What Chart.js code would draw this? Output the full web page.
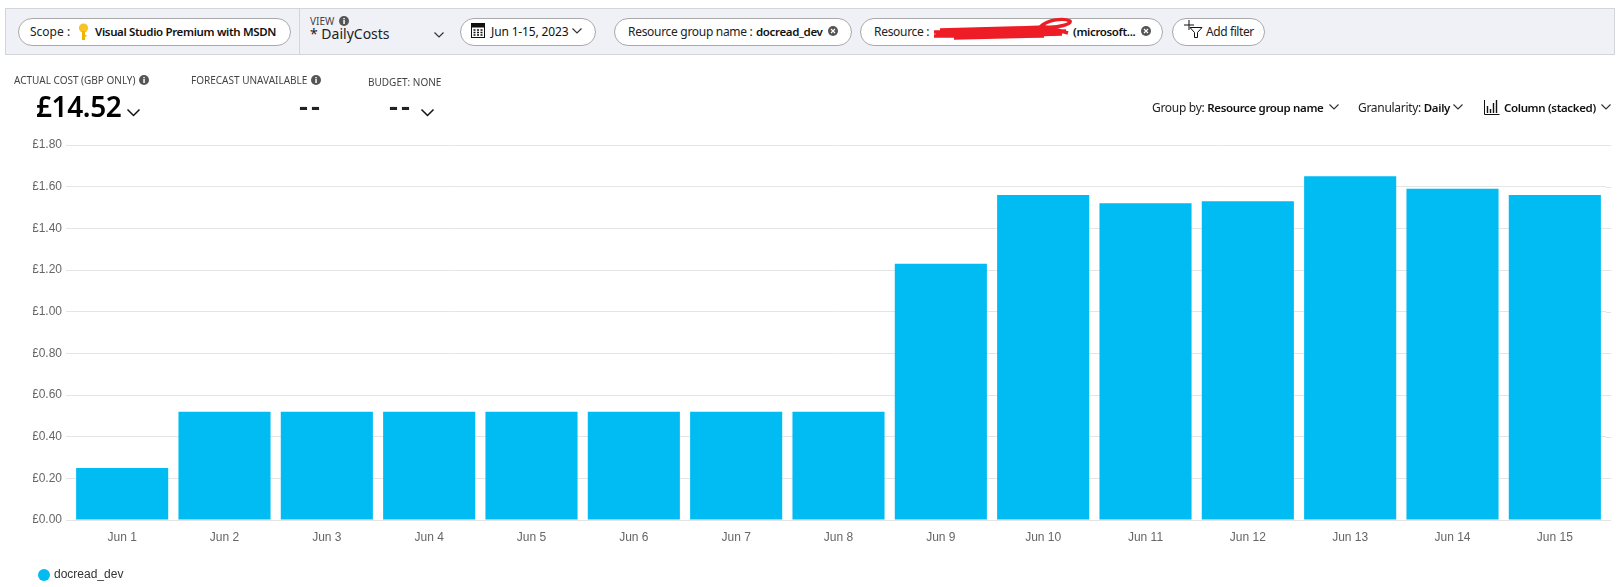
<!DOCTYPE html>
<html>
<head>
<meta charset="utf-8">
<title>DailyCosts</title>
<script src="https://cdn.jsdelivr.net/npm/chart.js@4"></script>
<style>
    html, body { margin: 0; padding: 0; background: #fff; width: 1621px; height: 587px; overflow: hidden; }
    body { font-family: "Noto Sans", sans-serif; font-size: 12px; color: #222; position: relative; }
    #costchart { position: absolute; left: 0; top: 0; }
    .band { position: absolute; left: 5px; top: 8px; width: 1608px; height: 45px; background: #f0f1f7; border: 1px solid #d4d5da; box-sizing: content-box; }
    .divider { position: absolute; left: 299px; top: 9px; width: 1px; height: 45px; background: #d4d5da; }
    .pill { position: absolute; top: 18px; height: 26px; background: #fff; border: 1px solid #a9a9a9; border-radius: 14px; }
    .t { position: absolute; white-space: nowrap; line-height: 16px; }
    .n { letter-spacing: -0.3px; }
    .b { font-weight: 600; color: #111; font-size: 11.5px; letter-spacing: -0.35px; }
    .cap { font-size: 10px; color: #444; }
    .big { font-size: 28px; line-height: 36px; font-weight: 600; color: #000; letter-spacing: -0.4px; }
    .dash { font-size: 28px; line-height: 30px; font-weight: 600; color: #222; letter-spacing: 3px; }
    svg { position: absolute; overflow: visible; }
</style>
</head>
<body>
<canvas id="costchart" width="1621" height="587"></canvas>

<div class="band"></div>
<div class="divider"></div>
<div class="pill" style="left:18px;width:271px"></div>
<div class="pill" style="left:460px;width:134px"></div>
<div class="pill" style="left:614px;width:236px"></div>
<div class="pill" style="left:860px;width:301px"></div>
<div class="pill" style="left:1172px;width:91px"></div>

<div class="t" style="left:30px;top:24px">Scope :</div>
<svg style="left:78px;top:23px" width="11" height="18" viewBox="0 0 11 18"><circle cx="5.5" cy="5" r="4.6" fill="#f7c325"/><rect x="4" y="8" width="3" height="9" fill="#f0b400"/><rect x="6" y="12" width="2.5" height="1.6" fill="#f0b400"/></svg>
<div class="t b" style="left:95px;top:24px">Visual Studio Premium with MSDN</div>

<div class="t cap" style="left:310px;top:13px">VIEW</div>
<svg style="left:339px;top:16px" width="10" height="10"><circle cx="5" cy="5" r="5" fill="#555"/><rect x="4.3" y="4" width="1.5" height="4" fill="#fff"/><rect x="4.3" y="2" width="1.5" height="1.3" fill="#fff"/></svg>
<div class="t" style="left:310px;top:26px;font-size:14px;color:#222">* DailyCosts</div>
<svg style="left:434px;top:32px" width="10" height="6"><path d="M0.5 0.5 L5 5 L9.5 0.5" fill="none" stroke="#333" stroke-width="1.2"/></svg>

<svg style="left:471px;top:23px" width="14" height="15"><rect x="0.5" y="0.5" width="13" height="14" fill="#fff" stroke="#111"/><rect x="0.5" y="0.5" width="13" height="4" fill="#111"/><path d="M2.5 7h2M6 7h2M9.5 7h2M2.5 9.5h2M6 9.5h2M9.5 9.5h2M2.5 12h2M6 12h2M9.5 12h2" stroke="#111" stroke-width="1.4"/></svg>
<div class="t" style="left:491px;top:24px;letter-spacing:-0.15px;color:#111">Jun 1-15, 2023</div>
<svg style="left:572px;top:28px" width="10" height="6"><path d="M0.5 0.5 L5 5 L9.5 0.5" fill="none" stroke="#333" stroke-width="1.2"/></svg>

<div class="t n" style="left:628px;top:24px">Resource group name :</div>
<div class="t b" style="left:756px;top:24px">docread_dev</div>
<svg style="left:828px;top:26px" width="10" height="10"><circle cx="5" cy="5" r="5" fill="#555"/><path d="M3 3l4 4M7 3l-4 4" stroke="#fff" stroke-width="1.2"/></svg>

<div class="t n" style="left:874px;top:24px">Resource :</div>
<div class="t b" style="left:1073px;top:24px">(microsoft...</div>
<svg style="left:934px;top:18px" width="140" height="24" viewBox="0 0 140 24"><path d="M0 14 L60 12 L120 11 L134 15 M2 16 L70 15 L132 13 M0 18 L60 18 L128 16 M6 12 L80 10 L112 9 M20 20 L110 18 M106 9 C114 1 130 0 136 3 C138 6 124 10 112 9" fill="none" stroke="#ee1c25" stroke-width="3.4"/></svg>
<svg style="left:1141px;top:26px" width="10" height="10"><circle cx="5" cy="5" r="5" fill="#555"/><path d="M3 3l4 4M7 3l-4 4" stroke="#fff" stroke-width="1.2"/></svg>

<svg style="left:1184px;top:20px" width="19" height="18"><path d="M5 0v10M0 5h10" stroke="#111" stroke-width="1"/><path d="M6 7.5h12l-4.5 5v5h-3v-5z" fill="#fff" stroke="#111"/></svg>
<div class="t" style="left:1206px;top:24px;letter-spacing:-0.4px">Add filter</div>

<div class="t cap" style="left:14px;top:72px">ACTUAL COST (GBP ONLY)</div>
<svg style="left:139px;top:75px" width="10" height="10"><circle cx="5" cy="5" r="5" fill="#555"/><rect x="4.3" y="4" width="1.5" height="4" fill="#fff"/><rect x="4.3" y="2" width="1.5" height="1.3" fill="#fff"/></svg>
<div class="t big" style="left:36px;top:88px">£14.52</div>
<svg style="left:127px;top:109px" width="13" height="8"><path d="M0.5 0.5 L6.5 6.5 L12.5 0.5" fill="none" stroke="#111" stroke-width="1.5"/></svg>

<div class="t cap" style="left:191px;top:72px">FORECAST UNAVAILABLE</div>
<svg style="left:311px;top:75px" width="10" height="10"><circle cx="5" cy="5" r="5" fill="#555"/><rect x="4.3" y="4" width="1.5" height="4" fill="#fff"/><rect x="4.3" y="2" width="1.5" height="1.3" fill="#fff"/></svg>
<div class="t dash" style="left:299px;top:90px">--</div>

<div class="t cap" style="left:368px;top:74px">BUDGET: NONE</div>
<div class="t dash" style="left:389px;top:90px">--</div>
<svg style="left:421px;top:109px" width="13" height="8"><path d="M0.5 0.5 L6.5 6.5 L12.5 0.5" fill="none" stroke="#111" stroke-width="1.5"/></svg>

<div class="t n" style="left:1152px;top:100px">Group by: <span class="b">Resource group name</span></div>
<svg style="left:1329px;top:104px" width="10" height="6"><path d="M0.5 0.5 L5 5 L9.5 0.5" fill="none" stroke="#333" stroke-width="1.2"/></svg>
<div class="t n" style="left:1358px;top:100px">Granularity: <span class="b">Daily</span></div>
<svg style="left:1453px;top:104px" width="10" height="6"><path d="M0.5 0.5 L5 5 L9.5 0.5" fill="none" stroke="#333" stroke-width="1.2"/></svg>
<svg style="left:1484px;top:100px" width="15" height="15"><path d="M0.5 0v14.5h15" fill="none" stroke="#111"/><path d="M3.5 6v7M6.5 9v4M9.5 3v10M12.5 0v13" stroke="#111" stroke-width="1.4"/></svg>
<div class="t b" style="left:1504px;top:100px">Column (stacked)</div>
<svg style="left:1601px;top:104px" width="10" height="6"><path d="M0.5 0.5 L5 5 L9.5 0.5" fill="none" stroke="#333" stroke-width="1.2"/></svg>

<script>
const days = ["Jun 1", "Jun 2", "Jun 3", "Jun 4", "Jun 5", "Jun 6", "Jun 7", "Jun 8", "Jun 9", "Jun 10", "Jun 11", "Jun 12", "Jun 13", "Jun 14", "Jun 15"];
const costs = [0.25, 0.52, 0.52, 0.52, 0.52, 0.52, 0.52, 0.52, 1.23, 1.56, 1.52, 1.53, 1.65, 1.59, 1.56];
const seriesName = "docread_dev";

const gridColor = "#e5e5e5";
const tickColor = "#666666";
const barColor = "#00bcf2";

// gridlines run a few px past the last bar in the original
const gridOverhang = {
    id: "gridOverhang",
    beforeDatasetsDraw(chart) {
        const ctx = chart.ctx;
        const area = chart.chartArea;
        ctx.save();
        ctx.strokeStyle = gridColor;
        ctx.lineWidth = 1;
        chart.scales.y.ticks.forEach(t => {
            const y = Math.round(chart.scales.y.getPixelForValue(t.value)) + 0.5;
            ctx.beginPath();
            ctx.moveTo(area.right, y);
            ctx.lineTo(area.right + 5, y);
            ctx.stroke();
        });
        ctx.restore();
    }
};

new Chart(document.getElementById("costchart"), {
    type: "bar",
    data: {
        labels: days,
        datasets: [{
            label: seriesName,
            data: costs,
            backgroundColor: barColor,
            barPercentage: 0.9,
            categoryPercentage: 1
        }]
    },
    options: {
        responsive: false,
        animation: false,
        layout: { padding: { left: 33, right: 15, top: 145, bottom: -4 } },
        plugins: {
            tooltip: { enabled: false },
            legend: {
                position: "bottom",
                align: "start",
                labels: {
                    usePointStyle: true,
                    pointStyle: "circle",
                    boxWidth: 8,
                    boxHeight: 8.5,
                    padding: 7,
                    color: "#333",
                    font: { family: "'Liberation Sans'", size: 12 }
                }
            }
        },
        scales: {
            x: {
                grid: { display: false },
                border: { display: false },
                ticks: { color: tickColor, padding: 2, maxRotation: 0, autoSkip: false, font: { family: "'Liberation Sans'", size: 12 } },
                afterFit(scale) { scale.height = 42; }
            },
            y: {
                min: 0,
                max: 1.8,
                ticks: {
                    stepSize: 0.2,
                    color: tickColor,
                    padding: 4,
                    font: { family: "'Liberation Sans'", size: 12 },
                    callback: v => "£" + v.toFixed(2)
                },
                grid: { color: gridColor, tickColor: gridColor, tickLength: 5 },
                border: { display: false },
                afterFit(scale) { scale.width = 38; }
            }
        }
    },
    plugins: [gridOverhang]
});
</script>
</body>
</html>
